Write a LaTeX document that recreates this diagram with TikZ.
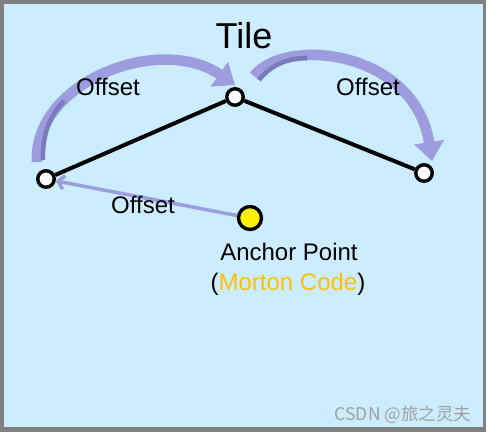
\documentclass[tikz,border=0pt]{standalone}
\usepackage{fontspec}
\setmainfont{Liberation Sans}
\newfontfamily\cjkfont{Noto Sans CJK SC}
\usetikzlibrary{arrows.meta}
\definecolor{tileblue}{RGB}{204,236,255}
\definecolor{framegray}{RGB}{128,128,128}
\definecolor{offsetpurple}{RGB}{156,156,222}
\definecolor{offsetshade}{RGB}{122,122,188}
\definecolor{mortonorange}{RGB}{255,192,0}
\definecolor{markgray}{RGB}{160,160,160}

\begin{document}
\begin{tikzpicture}[x=1pt, y=-1pt,
	vertex/.style={circle, draw=black, line width=3.4pt, fill=white, minimum size=16.5pt, inner sep=0pt},
	anchordot/.style={circle, draw=black, line width=3.4pt, fill=yellow, minimum size=23pt, inner sep=0pt},
	txt/.style={anchor=base, inner sep=0pt, font=\fontsize{24}{30}\selectfont},
	bigarrow/.style={line width=10.5pt, color=offsetpurple, -{Triangle[length=19pt, width=29pt]}},
	shade/.style={line width=4.5pt, color=offsetshade}]
	\useasboundingbox (0,0) rectangle (488,432);
	\fill[framegray] (0,0) rectangle (486,432);
	\fill[tileblue] (4,4) rectangle (483,427);
	\coordinate (ltail) at (37,162);
	\coordinate (lhead) at (235,85);
	\coordinate (rtail) at (254,76);
	\coordinate (rhead) at (432,161);
	\draw[bigarrow] (ltail) .. controls (33,82) and (160,33) .. (lhead);
	\draw[shade] (43,160) .. controls (42,135) and (50,115) .. (64,101);
	\draw[bigarrow] (rtail) .. controls (285,36) and (415,50) .. (rhead);
	\draw[shade] (259,80) .. controls (271,65) and (287,58) .. (307,58);
	\node (vtop) [vertex] at (235,97) {};
	\node (vleft) [vertex] at (46,179) {};
	\node (vright) [vertex] at (424,173) {};
	\node (anchorpt) [anchordot] at (250,218) {};
	\draw[line width=4pt] (vleft) -- (vtop) -- (vright);
	\draw[line width=3.5pt, offsetpurple, -{Straight Barb[length=6pt, width=14pt]}] (anchorpt) -- (vleft);
	\node (title) [txt, font=\fontsize{36}{42}\selectfont] at (244,48) {Tile};
	\node (offsetl) [txt] at (108,95) {Offset};
	\node (offsetr) [txt] at (368,95) {Offset};
	\node (offsetb) [txt] at (143,213) {Offset};
	\node (anchorname) [txt] at (289,260) {Anchor Point};
	\node (mortoncode) [txt] at (288,290) {(\textcolor{mortonorange}{Morton Code})};
	\node (watermark) [txt, color=markgray, font=\cjkfont\fontsize{17.5}{21}\selectfont] at (403,420) {CSDN @旅之灵夫};
\end{tikzpicture}
\end{document}
